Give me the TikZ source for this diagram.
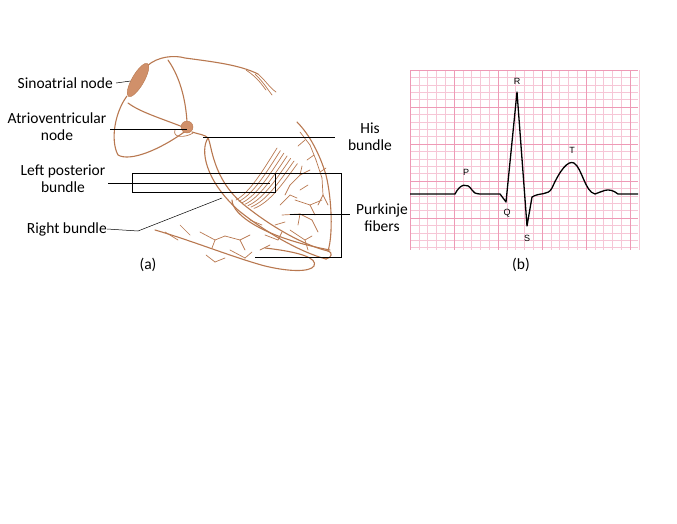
\documentclass[tikz,border=0pt]{standalone}
\usepackage{fontspec}
\usetikzlibrary{shapes.geometric}
\setmainfont{Carlito}
\newfontfamily\arialf{Liberation Sans}
\begin{document}
\begin{tikzpicture}[x=1pt,y=-1pt,
  fib/.style={draw=brn,line width=1.1pt,line cap=round},
  thin/.style={draw=brn,line width=0.7pt,line cap=round},
  ann/.style={draw=black,line width=0.5pt},
  lab/.style={font=\fontsize{15.5}{17}\selectfont,align=center,inner sep=0pt},
  ecgl/.style={font=\arialf\fontsize{9}{10}\selectfont,inner sep=0pt}]
\definecolor{brn}{HTML}{B87850}
\definecolor{brnf}{HTML}{D0906A}
\definecolor{gmin}{HTML}{F6C6D6}
\definecolor{gmaj}{HTML}{EE9AB6}
\useasboundingbox (0,0) rectangle (677,523);
% ---------- (a) heart ----------
\draw[fib] (147,66) .. controls (158,56) and (175,55) .. (185,58) .. controls (215,62) and (240,65) .. (258,74);
\draw[thin] (258,74) .. controls (265,80) and (270,88) .. (276,92);
\draw[thin] (246,70) .. controls (258,78) and (262,85) .. (266,90);
\draw[thin] (255,74) .. controls (265,84) and (268,90) .. (272,95);
\draw[fib] (127,96) .. controls (115,112) and (110,140) .. (118,155) .. controls (130,162) and (160,150) .. (187,130);
\draw[fib] (128,103) .. controls (140,112) and (160,118) .. (183,127);
\draw[fib] (168,60) .. controls (182,80) and (186,105) .. (187,122);
\draw[thin] (175,130) .. controls (172,138) and (185,138) .. (193,133);
\node[name=sa,draw=brn,fill=brnf,ellipse,minimum width=12pt,minimum height=38pt,rotate=-30,inner sep=0pt] at (138,80) {};
\node[name=av,draw=brn,fill=brnf,circle,minimum size=12pt,inner sep=0pt] at (187,127) {};
\draw[fib] (192,132) .. controls (198,134) and (206,135) .. (208,138);
\draw[fib] (208,138) .. controls (200,150) and (205,180) .. (238,210) .. controls (265,232) and (300,252) .. (326,259);
\draw[fib] (208,138) .. controls (212,145) and (212,178) .. (243,204) .. controls (270,226) and (303,245) .. (328,251);
\draw[fib] (326,259) .. controls (332,258) and (333,252) .. (328,251);
\draw[fib] (155,230) .. controls (190,240) and (235,258) .. (265,266) .. controls (290,272) and (310,272) .. (314,266)
  .. controls (318,258) and (300,252) .. (265,248);
\draw[fib] (297,122) .. controls (310,135) and (320,155) .. (326,175) .. controls (332,200) and (333,235) .. (328,251);
\draw[fib] (232,200) .. controls (232,215) and (265,238) .. (330,250);
% fan of left bundle
\foreach \i in {0,...,6}{
  \draw[thin] (236+3*\i,200+1.4*\i) .. controls (250+3.2*\i,192+1.8*\i) and (262+3.3*\i,172+2.2*\i) .. (277+3.4*\i,148+2.6*\i);
}
\foreach \a/\b/\c/\d in {300/132/310/145, 310/145/316/160, 316/160/322/178, 305/140/298/146, 314/155/307/160, 320/172/326/168,
 322/178/323/195, 323/195/318/205, 323/195/328/205,
 290/185/300/175, 300/175/310/170, 300/175/302/166, 290/185/285/195, 295/200/310/205, 310/205/322/200, 310/205/315/215,
 282/215/300/214, 300/214/312/220, 300/214/298/225, 312/220/318/232, 290/230/305/240, 305/240/312/236, 305/240/308/250,
 200/232/215/240, 215/240/225/236, 215/240/212/248, 225/236/240/240, 240/240/250/235, 240/240/245/250, 180/225/190/235,
 165/232/178/240, 230/250/245/258, 245/258/252/252, 260/250/270/245, 265/235/278/240, 278/240/282/232, 250/220/262/225,
 206/255/215/262, 215/262/225/258, 280/205/290/195, 290/195/297/198, 275/225/285/222, 300/190/308/185}{
  \draw[thin] (\a,\b) -- (\c,\d);
}
\node[lab,anchor=east] (tsa) at (113,83) {Sinoatrial node};
\draw[ann] (tsa.east)+(3,0) -- (sa);
\node[lab] (tav) at (57,127) {Atrioventricular\\node};
\draw[ann] (110,129) -- (av.center |- 0,129);
\node[lab] (this) at (370,137) {His\\bundle};
\draw[ann] (203,137) -- (335,137);
\node[lab] (tlp) at (63,179) {Left posterior\\bundle};
\draw[ann] (108,183) -- (270,183);
\draw[ann] (132,173) rectangle (275,192);
\node[lab,anchor=east] (trb) at (107,229) {Right bundle};
\draw[ann] (trb.east) -- (138,231) -- (222,198);
\node[lab] (tpf) at (382,218) {Purkinje\\fibers};
\draw[ann] (275,173) -- (341,173) -- (341,257) -- (255,257);
\draw[ann] (290,214) -- (350,214);
\node[lab] (la) at (148,265) {(a)};
% ---------- (b) ECG ----------
\foreach \x in {0,...,26}{\draw[gmin,line width=0.4pt] (410+8.8*\x,70) -- (410+8.8*\x,250);}
\foreach \y in {0,...,24}{\draw[gmin,line width=0.4pt] (410,70+7.4*\y) -- (638,70+7.4*\y);}
\foreach \x in {0,...,5}{\draw[gmaj,line width=0.6pt] (410+44*\x,70) -- (410+44*\x,250);}
\foreach \y in {0,...,4}{\draw[gmaj,line width=0.6pt] (410,70+37*\y) -- (638,70+37*\y);}
\draw[line width=1.3pt,line join=round] (410,194) -- (455,194) .. controls (460,184) and (467,182) .. (472,190) .. controls (475,195) and (478,194) .. (500,194)
 -- (506,202) -- (517,92) -- (527,226) -- (532,197) .. controls (540,192) and (548,196) .. (552,188)
 .. controls (560,170) and (568,160) .. (574,163) .. controls (582,168) and (585,192) .. (595,194)
 .. controls (602,192) and (608,186) .. (618,194) -- (638,194);
\node[ecgl] (pp) at (466,172) {P};
\node[ecgl] (pr) at (517,81) {R};
\node[ecgl] (pq) at (507,213) {Q};
\node[ecgl] (ps) at (527,238) {S};
\node[ecgl] (pt) at (572,150) {T};
\node[lab] (lb) at (521,265) {(b)};
\end{tikzpicture}
\end{document}
